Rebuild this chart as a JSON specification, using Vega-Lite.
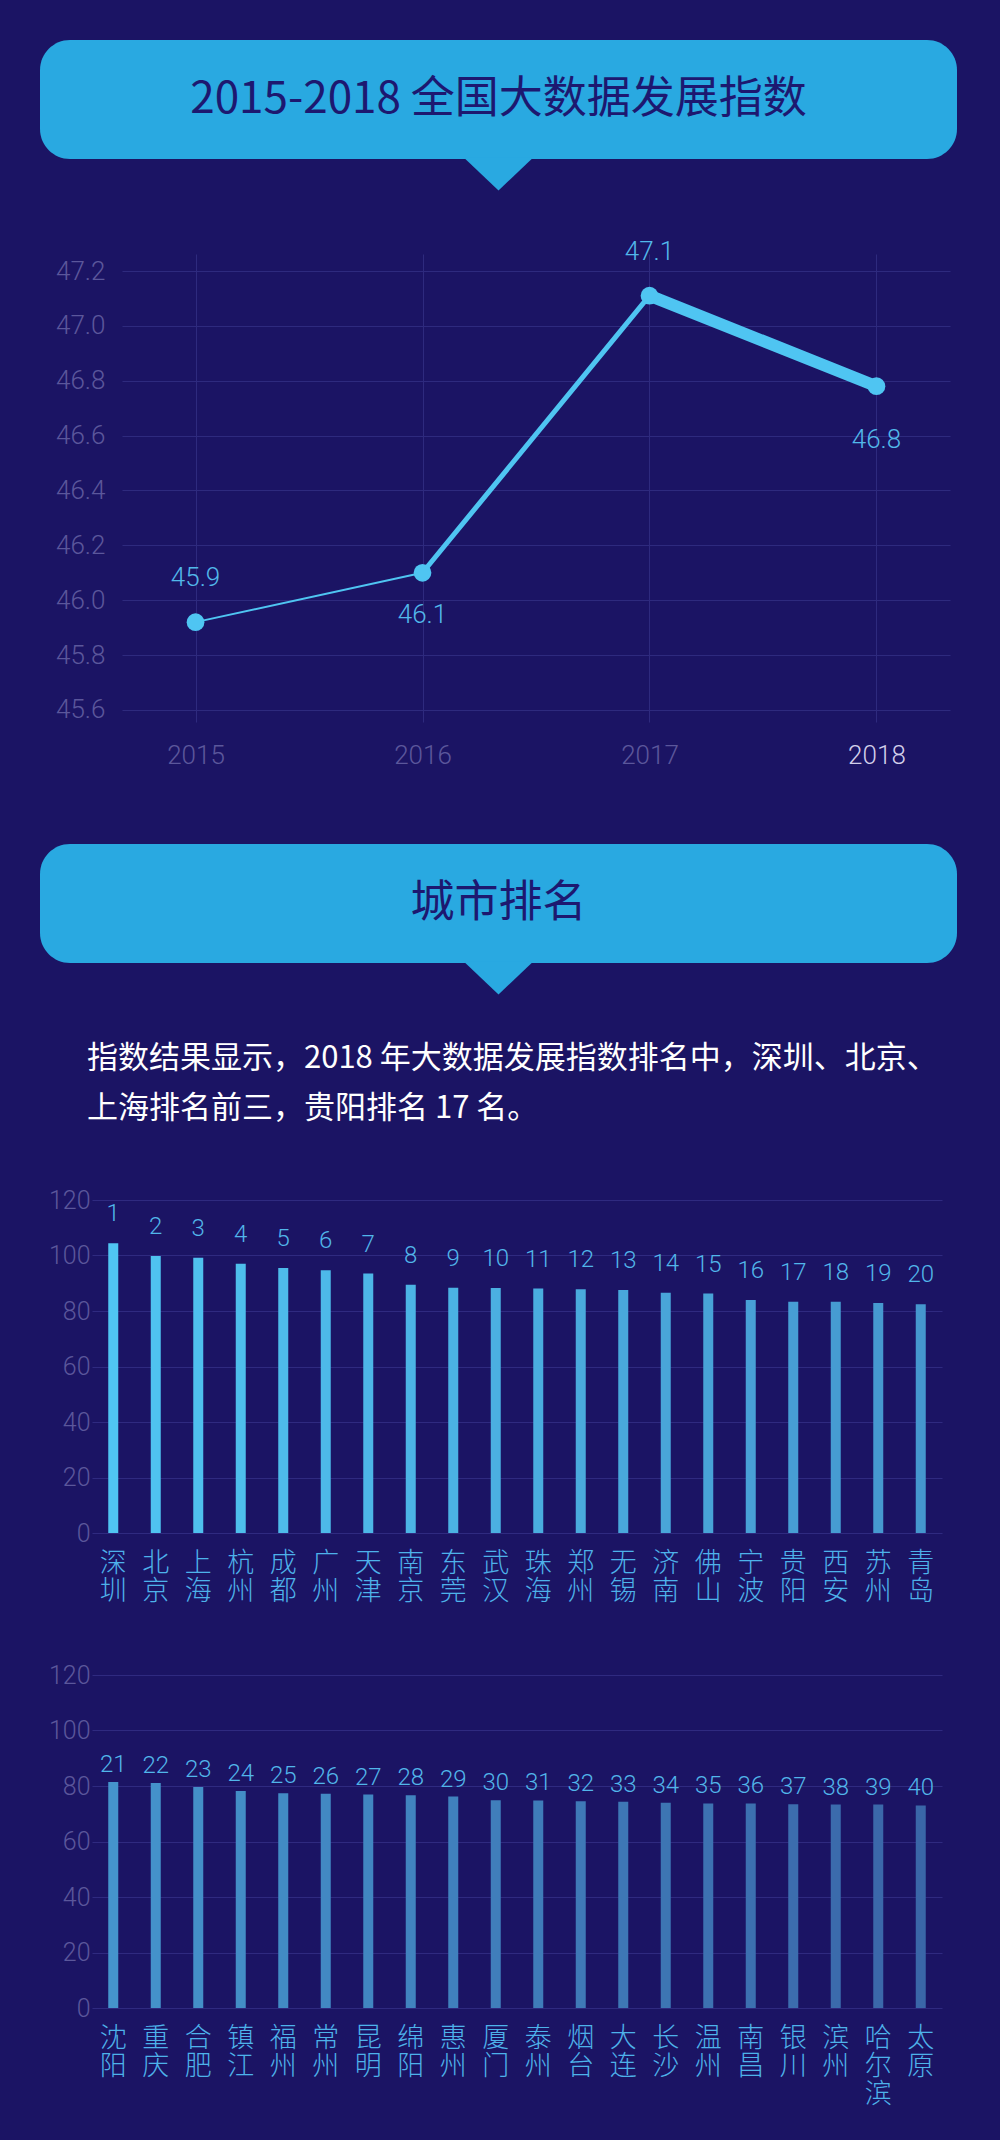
{
  "$schema": "https://vega.github.io/schema/vega-lite/v6.json",
  "background": "#1b1464",
  "padding": {"left": 40, "top": 40, "right": 43, "bottom": 0},
  "autosize": {"type": "pad"},
  "spacing": 0,
  "bounds": "flush",
  "config": {"view": {"stroke": null}, "font": "Noto Sans CJK SC", "concat": {"spacing": 0}},
  "datasets": {
    "index": [
      {"year": "2015", "value": 45.92},
      {"year": "2016", "value": 46.10},
      {"year": "2017", "value": 47.11},
      {"year": "2018", "value": 46.78}
    ],
    "cities": [
      {"rank": 1, "city": "深圳", "score": 104.4},
      {"rank": 2, "city": "北京", "score": 99.8},
      {"rank": 3, "city": "上海", "score": 99.2},
      {"rank": 4, "city": "杭州", "score": 97.0},
      {"rank": 5, "city": "成都", "score": 95.5},
      {"rank": 6, "city": "广州", "score": 94.7},
      {"rank": 7, "city": "天津", "score": 93.5},
      {"rank": 8, "city": "南京", "score": 89.5},
      {"rank": 9, "city": "东莞", "score": 88.4},
      {"rank": 10, "city": "武汉", "score": 88.3},
      {"rank": 11, "city": "珠海", "score": 88.1},
      {"rank": 12, "city": "郑州", "score": 87.8},
      {"rank": 13, "city": "无锡", "score": 87.6},
      {"rank": 14, "city": "济南", "score": 86.6},
      {"rank": 15, "city": "佛山", "score": 86.3},
      {"rank": 16, "city": "宁波", "score": 84.0},
      {"rank": 17, "city": "贵阳", "score": 83.3},
      {"rank": 18, "city": "西安", "score": 83.3},
      {"rank": 19, "city": "苏州", "score": 82.9},
      {"rank": 20, "city": "青岛", "score": 82.4},
      {"rank": 21, "city": "沈阳", "score": 81.4},
      {"rank": 22, "city": "重庆", "score": 81.1},
      {"rank": 23, "city": "合肥", "score": 79.6},
      {"rank": 24, "city": "镇江", "score": 78.2},
      {"rank": 25, "city": "福州", "score": 77.4},
      {"rank": 26, "city": "常州", "score": 77.2},
      {"rank": 27, "city": "昆明", "score": 76.9},
      {"rank": 28, "city": "绵阳", "score": 76.7},
      {"rank": 29, "city": "惠州", "score": 76.2},
      {"rank": 30, "city": "厦门", "score": 74.9},
      {"rank": 31, "city": "泰州", "score": 74.8},
      {"rank": 32, "city": "烟台", "score": 74.5},
      {"rank": 33, "city": "大连", "score": 74.3},
      {"rank": 34, "city": "长沙", "score": 74.0},
      {"rank": 35, "city": "温州", "score": 73.7},
      {"rank": 36, "city": "南昌", "score": 73.7},
      {"rank": 37, "city": "银川", "score": 73.4},
      {"rank": 38, "city": "滨州", "score": 73.3},
      {"rank": 39, "city": "哈尔滨", "score": 73.3},
      {"rank": 40, "city": "太原", "score": 73.0}
    ]
  },
  "vconcat": [
    {
      "width": 917, "height": 119,
      "view": {"fill": "#29a9e1", "cornerRadius": 30, "stroke": null},
      "data": {"values": [{"t": "2015-2018 全国大数据发展指数"}]},
      "layer": [
        {"mark": {"type": "text", "fontSize": 44, "color": "#1d1870", "font": "Noto Sans CJK SC", "align": "center", "baseline": "middle"},
         "encoding": {"text": {"field": "t"}}},
        {"mark": {"type": "point", "shape": "M-1,-0.05L1,-0.05L0,0.9Z", "size": 4900, "filled": true, "color": "#29a9e1", "opacity": 1, "clip": false, "strokeWidth": 0},
         "encoding": {"y": {"datum": 0, "type": "quantitative", "scale": {"domain": [0, 1]}, "axis": null}}}
      ]
    },
    {"width": 1, "height": 95, "data": {"values": []}, "mark": "point"},
    {
      "width": 910, "height": 468,
      "data": {"name": "index"},
      "encoding": {
        "x": {"field": "year", "type": "ordinal", "scale": {"type": "point", "padding": 0.324, "range": [82, 910]},
              "axis": {"title": null, "domain": false, "ticks": false, "grid": true, "gridColor": "#2e2a7e", "labelAngle": 0,
                       "labelFont": "Roboto", "labelFontSize": 26, "labelFontWeight": 300, "labelPadding": 20, "labelBaseline": "top",
                       "labelColor": {"condition": {"test": "datum.value == '2018'", "value": "#d2cfea"}, "value": "#5b579b"}}},
        "y": {"field": "value", "type": "quantitative", "scale": {"domain": [45.556, 47.262], "zero": false, "nice": false},
              "axis": {"title": null, "domain": false, "ticks": false, "values": [45.6, 45.8, 46.0, 46.2, 46.4, 46.6, 46.8, 47.0, 47.2],
                       "format": ".1f", "gridColor": "#2e2a7e", "labelColor": "#5b579b", "labelFont": "Roboto", "labelFontSize": 26,
                       "labelFontWeight": 300, "labelPadding": 17, "offset": -82}}
      },
      "layer": [
        {
          "transform": [
            {"window": [{"op": "lead", "field": "value", "as": "next_value"}, {"op": "lead", "field": "year", "as": "next_year"}], "sort": [{"field": "year"}]},
            {"filter": "datum.next_year != null"}
          ],
          "mark": {"type": "rule", "color": "#4fc5f2", "strokeCap": "round"},
          "encoding": {
            "x2": {"field": "next_year"},
            "y2": {"field": "next_value"},
            "strokeWidth": {"field": "year", "type": "nominal", "scale": {"type": "ordinal", "domain": ["2015", "2016", "2017"], "range": [2, 5, 12]}, "legend": null}
          }
        },
        {"mark": {"type": "circle", "size": 314, "color": "#4fc5f2", "opacity": 1}},
        {
          "transform": [{"filter": "datum.year == '2015' || datum.year == '2017'"}],
          "mark": {"type": "text", "dy": -44, "font": "Roboto", "fontWeight": 300, "fontSize": 26, "color": "#52b8ea", "baseline": "middle"},
          "encoding": {"text": {"field": "value", "format": ".1f"}}
        },
        {
          "transform": [{"filter": "datum.year == '2016'"}],
          "mark": {"type": "text", "dy": 42, "font": "Roboto", "fontWeight": 300, "fontSize": 26, "color": "#52b8ea", "baseline": "middle"},
          "encoding": {"text": {"field": "value", "format": ".1f"}}
        },
        {
          "transform": [{"filter": "datum.year == '2018'"}],
          "mark": {"type": "text", "dy": 54, "font": "Roboto", "fontWeight": 300, "fontSize": 26, "color": "#52b8ea", "baseline": "middle"},
          "encoding": {"text": {"field": "value", "format": ".1f"}}
        }
      ]
    },
    {"width": 1, "height": 122, "data": {"values": []}, "mark": "point"},
    {
      "width": 917, "height": 119,
      "view": {"fill": "#29a9e1", "cornerRadius": 30, "stroke": null},
      "data": {"values": [{"t": "城市排名"}]},
      "layer": [
        {"mark": {"type": "text", "fontSize": 44, "color": "#1d1870", "font": "Noto Sans CJK SC", "align": "center", "baseline": "middle"},
         "encoding": {"text": {"field": "t"}}},
        {"mark": {"type": "point", "shape": "M-1,-0.05L1,-0.05L0,0.9Z", "size": 4900, "filled": true, "color": "#29a9e1", "opacity": 1, "clip": false, "strokeWidth": 0},
         "encoding": {"y": {"datum": 0, "type": "quantitative", "scale": {"domain": [0, 1]}, "axis": null}}}
      ]
    },
    {"width": 1, "height": 237, "data": {"values": []}, "mark": "point"},
    {
      "width": 902, "height": 333,
      "data": {"name": "cities"},
      "transform": [{"filter": "datum.rank <= 20"}],
      "title": {"text": ["指数结果显示，2018 年大数据发展指数排名中，深圳、北京、", "上海排名前三，贵阳排名 17 名。"],
                "anchor": "start", "frame": "group", "fontSize": 31, "lineHeight": 50, "color": "#ffffff",
                "font": "Noto Sans CJK SC", "fontWeight": "normal", "offset": 63, "dx": 47},
      "encoding": {
        "x": {"field": "city", "type": "nominal", "sort": null, "scale": {"paddingInner": 0, "paddingOuter": 0, "range": [52, 902]},
              "axis": {"title": null, "domain": false, "ticks": false, "labelAngle": 0, "labelExpr": "split(datum.label, '')",
                       "labelFont": "Noto Sans CJK SC", "labelFontSize": 27, "labelFontWeight": 300, "labelLineHeight": 28,
                       "labelColor": "#4eb2ea", "labelBaseline": "top", "labelPadding": 17, "labelOverlap": false}},
        "y": {"field": "score", "type": "quantitative", "scale": {"domain": [0, 120], "nice": false},
              "axis": {"title": null, "domain": false, "ticks": false, "values": [0, 20, 40, 60, 80, 100, 120],
                       "gridColor": "#2f2a80", "labelColor": "#5b579b", "labelFont": "Roboto", "labelFontSize": 25,
                       "labelFontWeight": 300, "labelPadding": 2, "offset": -52}}
      },
      "layer": [
        {"mark": {"type": "bar", "width": 10},
         "encoding": {"color": {"field": "rank", "type": "quantitative", "scale": {"domain": [1, 40], "range": ["#50c5f2", "#3a66a8"], "interpolate": "rgb"}, "legend": null}}},
        {"mark": {"type": "text", "dy": -22, "baseline": "alphabetic", "font": "Roboto", "fontWeight": 300, "fontSize": 24, "color": "#52b6ea"},
         "encoding": {"text": {"field": "rank"}}}
      ]
    },
    {"width": 1, "height": 142, "data": {"values": []}, "mark": "point"},
    {
      "width": 902, "height": 333,
      "data": {"name": "cities"},
      "transform": [{"filter": "datum.rank > 20"}],
      "encoding": {
        "x": {"field": "city", "type": "nominal", "sort": null, "scale": {"paddingInner": 0, "paddingOuter": 0, "range": [52, 902]},
              "axis": {"title": null, "domain": false, "ticks": false, "labelAngle": 0, "labelExpr": "split(datum.label, '')",
                       "labelFont": "Noto Sans CJK SC", "labelFontSize": 27, "labelFontWeight": 300, "labelLineHeight": 28,
                       "labelColor": "#4eb2ea", "labelBaseline": "top", "labelPadding": 17, "labelOverlap": false}},
        "y": {"field": "score", "type": "quantitative", "scale": {"domain": [0, 120], "nice": false},
              "axis": {"title": null, "domain": false, "ticks": false, "values": [0, 20, 40, 60, 80, 100, 120],
                       "gridColor": "#2f2a80", "labelColor": "#5b579b", "labelFont": "Roboto", "labelFontSize": 25,
                       "labelFontWeight": 300, "labelPadding": 2, "offset": -52}}
      },
      "layer": [
        {"mark": {"type": "bar", "width": 10},
         "encoding": {"color": {"field": "rank", "type": "quantitative", "scale": {"domain": [1, 40], "range": ["#50c5f2", "#3a66a8"], "interpolate": "rgb"}, "legend": null}}},
        {"mark": {"type": "text", "dy": -10, "baseline": "alphabetic", "font": "Roboto", "fontWeight": 300, "fontSize": 24, "color": "#52b6ea"},
         "encoding": {"text": {"field": "rank"}}}
      ]
    },
    {"width": 1, "height": 132, "data": {"values": []}, "mark": "point"}
  ]
}
